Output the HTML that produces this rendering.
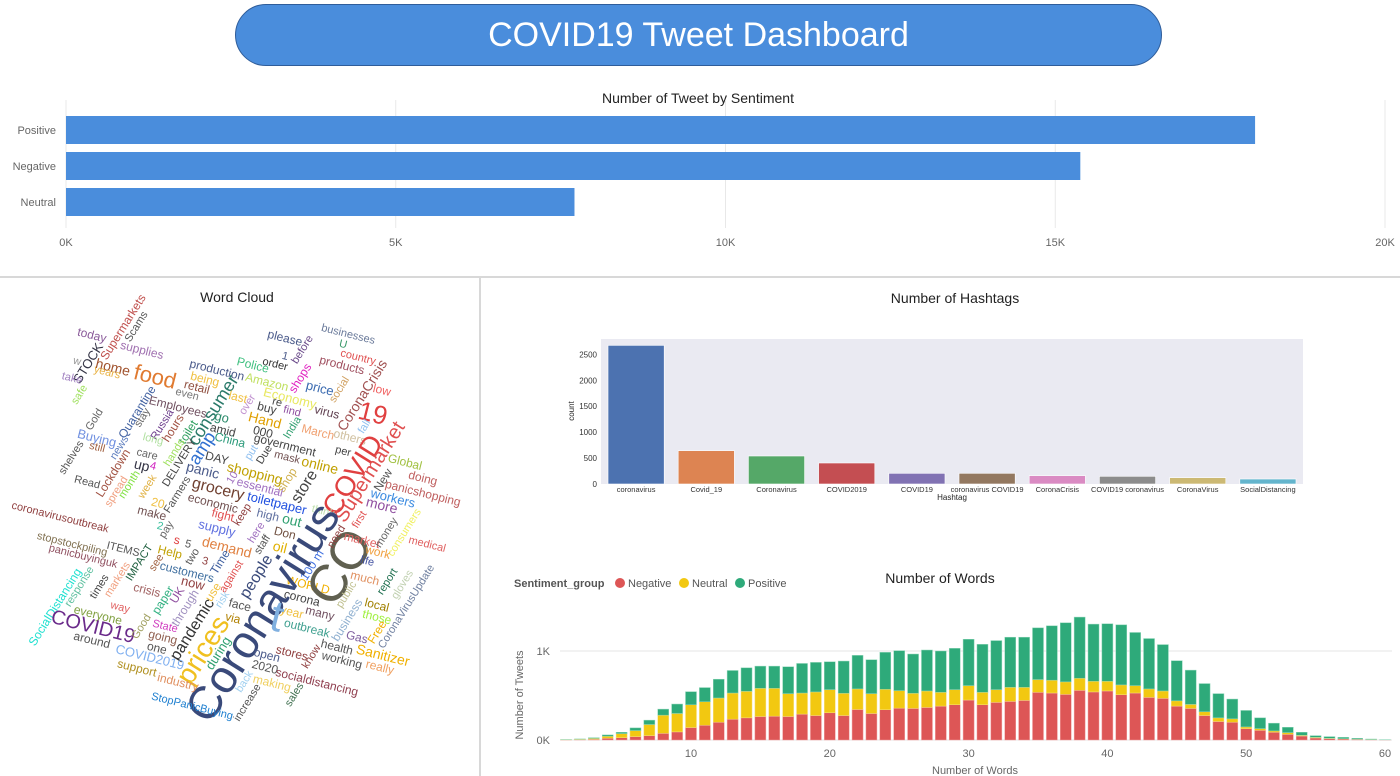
<!DOCTYPE html>
<html><head><meta charset="utf-8">
<style>
body{margin:0;width:1400px;height:776px;background:#fff;font-family:"Liberation Sans","DejaVu Sans",sans-serif;position:relative;overflow:hidden}
#title{position:absolute;left:235px;top:4px;width:925px;height:60px;background:#4a8ddc;border:1px solid #2f5d9a;border-radius:31px;color:#fff;font-size:34px;text-align:center;line-height:60px}
svg{position:absolute;left:0;top:0}
.w{position:absolute;white-space:nowrap;transform-origin:center center;line-height:1}
</style></head><body>
<div id="title">COVID19 Tweet Dashboard</div>
<svg id="main" width="1400" height="776"></svg>
<div id="cloud"></div>
<script>
// Sentiment chart data
const sentCats=["Positive","Negative","Neutral"];
const sentVals=[18030,15380,7710];
const sentTicks=[0,5000,10000,15000,20000];
const sentTickLabels=["0K","5K","10K","15K","20K"];
// Hashtag chart data
const tagCats=["coronavirus","Covid_19","Coronavirus","COVID2019","COVID19","coronavirus COVID19","CoronaCrisis","COVID19 coronavirus","CoronaVirus","SocialDistancing"];
const tagVals=[2674,643,540,405,206,206,161,148,122,96];
const tagTicks=[0,500,1000,1500,2000,2500];
// Words chart data
const wordCats=[1,2,3,4,5,6,7,8,9,10,11,12,13,14,15,16,17,18,19,20,21,22,23,24,25,26,27,28,29,30,31,32,33,34,35,36,37,38,39,40,41,42,43,44,45,46,47,48,49,50,51,52,53,54,55,56,57,58,59,60];
const negVals=[2,4,8,20,26,38,49,75,91,140,166,200,234,249,264,268,264,291,275,306,275,343,298,340,358,355,366,381,396,449,396,423,434,445,536,528,513,558,540,551,509,528,479,468,381,355,275,208,200,128,109,87,64,45,23,15,12,7,4,2];
const neuVals=[2,5,10,22,46,68,125,204,207,256,264,272,294,298,317,313,257,237,265,260,250,231,223,230,197,170,185,155,170,162,140,143,158,147,143,144,140,136,120,109,110,83,95,83,59,45,42,41,38,19,19,15,19,8,7,4,3,2,1,0];
const posVals=[1,3,8,15,15,30,49,68,106,147,159,211,253,264,249,249,302,332,332,313,362,377,381,415,449,441,460,464,464,521,539,551,563,563,581,611,664,687,642,646,675,597,566,521,451,385,317,272,222,185,121,87,60,34,19,19,15,10,6,2];
const wordTicks=[0,1000];
const wordTickLabels=["0K","1K"];
const wordXTicks=[10,20,30,40,50,60];

const NS="http://www.w3.org/2000/svg";
const svg=document.getElementById('main');
function mk(tag,attrs,parent){const e=document.createElementNS(NS,tag);for(const k in attrs)e.setAttribute(k,attrs[k]);(parent||svg).appendChild(e);return e;}
function txt(s,attrs,parent){const e=mk('text',attrs,parent);e.textContent=s;return e;}

let d=mk('line',{x1:0,y1:277,x2:1400,y2:277,stroke:'#d8d8d8','stroke-width':2});


d=mk('line',{x1:480,y1:277,x2:480,y2:776,stroke:'#d8d8d8','stroke-width':2});



// ---- Sentiment chart
const sx=v=>66+v/20000*1319;
const sentY=[116,152,188],sentH=28;
let t=txt('Number of Tweet by Sentiment',{x:698,y:103,'font-size':14,'text-anchor':'middle',fill:'#222'});


sentTicks.forEach((v,i)=>{
  const g=mk('line',{x1:sx(v),y1:100,x2:sx(v),y2:228,stroke:'#e8e8e8'});
  
  
  const l=txt(sentTickLabels[i],{x:sx(v),y:246,'font-size':11,'text-anchor':'middle',fill:'#666'});
  
  
});
sentCats.forEach((c,i)=>{
  const r=mk('rect',{x:sx(0),y:sentY[i],width:sx(sentVals[i])-sx(0),height:sentH,fill:'#4a8ddc'});
  
  
  const l=txt(c,{x:56,y:sentY[i]+sentH/2+4,'font-size':11,'text-anchor':'end',fill:'#666'});
  
  
});

// ---- Hashtag chart
const hx0=601,hx1=1303,hy0=339,hy1=484;
const hy=v=>hy1-v/2500*129.6;
t=txt('Number of Hashtags',{x:955,y:303,'font-size':14,'text-anchor':'middle',fill:'#222'});


let bg=mk('rect',{x:hx0,y:hy0,width:hx1-hx0,height:hy1-hy0,fill:'#eaeaf2'});


tagTicks.forEach(v=>{
  const l=txt(String(v),{x:597,y:hy(v)+3,'font-size':8,'text-anchor':'end',fill:'#333'});
  
  
});
const tagColors=['#4c72b0','#dd8452','#55a868','#c44e52','#8172b3','#937860','#da8bc3','#8c8c8c','#ccb974','#64b5cd'];
const step=(hx1-hx0)/tagCats.length;
tagCats.forEach((c,i)=>{
  const cx=hx0+step*(i+0.5);
  const r=mk('rect',{x:cx-step*0.4,y:hy(tagVals[i]),width:step*0.8,height:hy1-hy(tagVals[i]),fill:tagColors[i],stroke:'#fff','stroke-width':0.6});
  
  
  const l=txt(c,{x:cx,y:492,'font-size':7.5,'text-anchor':'middle',fill:'#333'});
  
  
});
t=txt('count',{x:574,y:411,'font-size':8,'text-anchor':'middle',fill:'#222',transform:'rotate(-90 574 411)'});


t=txt('Hashtag',{x:952,y:500,'font-size':8,'text-anchor':'middle',fill:'#222'});



// ---- Words chart
const wx=v=>691+(v-10)*13.88;
const wy=v=>740-v/1000*89;
t=txt('Number of Words',{x:940,y:583,'font-size':14,'text-anchor':'middle',fill:'#222'});


t=txt('Sentiment_group',{x:514,y:587,'font-size':11,'font-weight':'bold',fill:'#555'});


[['Negative','#dd5656',620,628],['Neutral','#f2c811',684,692],['Positive','#2eaa7a',740,748]].forEach(a=>{
  const c=mk('circle',{cx:a[2],cy:583,r:5,fill:a[1]});
  
  
  const l=txt(a[0],{x:a[3],y:587,'font-size':11,fill:'#555'});
  
  
});
wordTicks.forEach((v,i)=>{
  const g=mk('line',{x1:560,y1:wy(v),x2:1392,y2:wy(v),stroke:'#e6e6e6'});
  
  
  const l=txt(wordTickLabels[i],{x:550,y:wy(v)+4,'font-size':11,'text-anchor':'end',fill:'#666'});
  
  
});
wordXTicks.forEach(v=>{
  const l=txt(String(v),{x:wx(v),y:757,'font-size':11,'text-anchor':'middle',fill:'#666'});
  
  
});
t=txt('Number of Tweets',{x:523,y:695,'font-size':11,'text-anchor':'middle',fill:'#666',transform:'rotate(-90 523 695)'});


t=txt('Number of Words',{x:975,y:774,'font-size':11,'text-anchor':'middle',fill:'#666'});


wordCats.forEach((c,i)=>{
  const x=wx(c)-5.5,w=11;
  const n=negVals[i],u=neuVals[i],p=posVals[i];
  let r=mk('rect',{x:x,y:wy(n),width:w,height:wy(0)-wy(n),fill:'#dd5656',stroke:'#f2a0a0','stroke-width':0.5});
  
  
  r=mk('rect',{x:x,y:wy(n+u),width:w,height:wy(n)-wy(n+u),fill:'#f2c811',stroke:'#f8e080','stroke-width':0.5});
  
  
  r=mk('rect',{x:x,y:wy(n+u+p),width:w,height:wy(n+u)-wy(n+u+p),fill:'#2eaa7a',stroke:'#8fd6b8','stroke-width':0.5});
  
  
});

// ---- Word cloud
t=txt('Word Cloud',{x:237,y:302,'font-size':14,'text-anchor':'middle',fill:'#222'});


const words=[
["Supermarkets",123,327,12,"#c0504d",1],["Scams",137,327,11,"#555",1],["today",92,335,12,"#8a5a9a",0],["supplies",142,350,12,"#a070b0",0],
["STOCK",88,363,13,"#334",1],["w",77,362,11,"#999",0],["home",113,367,14,"#a0522d",0],["years",107,373,11,"#e8b040",0],["take",72,379,11,"#a080c0",0],
["safe",80,395,11,"#a0e060",1],["food",155,377,22,"#e07a30",0],["production",217,370,12,"#4a5a8a",0],["being",205,379,12,"#f0c040",0],
["retail",197,387,12,"#905040",0],["even",187,395,11,"#777",0],["Employees",178,407,12,"#705060",0],["consumer",213,410,18,"#2a7a6a",1],
["Police",253,365,12,"#40c080",0],["order",275,365,11,"#333",0],["1",285,357,11,"#4a5a8a",0],["please",285,338,12,"#4a5a8a",0],["before",303,350,11,"#6a4a8a",1],
["businesses",348,335,11,"#6a7a9a",0],["U",343,345,11,"#3a9a6a",0],["country",358,358,11,"#e05050",0],["products",342,365,12,"#a05060",0],
["Amazon",267,382,12,"#c0e060",0],["shops",300,378,12,"#e020c0",1],["price",320,388,13,"#3a6ab0",0],["social",340,390,11,"#d0a060",1],
["CoronaCrisis",362,395,14,"#a05050",1],["low",382,390,12,"#f06060",0],["last",238,397,12,"#f0c040",0],["over",248,405,11,"#c090d0",1],
["Economy",290,398,13,"#e8e860",0],["buy",267,408,12,"#444",0],["re",277,403,11,"#444",0],["find",292,412,11,"#9050a0",0],["virus",327,412,12,"#604050",0],
["19",373,413,26,"#e04040",0],["Hand",265,420,14,"#e0a000",0],["go",222,417,13,"#2a8a6a",0],["India",293,428,11,"#30a070",1],
["Quarantine",137,412,12,"#4060a0",1],["stay",143,418,11,"#666",1],["Gold",95,420,11,"#666",1],["Russia",163,425,11,"#6a3a8a",1],["hours",173,428,12,"#a05040",1],
["toilet",188,432,12,"#30a060",1],["amid",223,430,12,"#444",0],["000",263,432,12,"#444",0],["March",318,432,12,"#f0a070",0],["others",350,437,12,"#d0c0a0",0],
["fall",365,427,11,"#90c0f0",1],["Buying",97,438,13,"#7090e0",0],["long",153,440,11,"#b0e0a0",0],["China",230,440,12,"#2a9a7a",0],["amp",202,448,18,"#3070d0",1],
["government",285,445,12,"#444",0],["still",97,448,11,"#a06040",0],["news",120,448,11,"#6080c0",1],["care",147,455,11,"#666",0],["put",252,453,11,"#90c0f0",1],
["per",343,452,11,"#444",0],["COVID",353,475,28,"#e04040",1],["Supermarket",370,472,20,"#e05050",1],["Global",405,462,12,"#a0c040",0],
["hands",175,453,11,"#a0e060",1],["DELIVERY",180,463,11,"#444",1],["Due",265,455,11,"#444",1],["mask",287,458,11,"#705050",0],["online",320,465,14,"#c0a000",0],
["shelves",72,458,11,"#555",1],["up",142,465,14,"#334",0],["4",153,467,11,"#d020c0",0],["DAY",217,458,12,"#444",0],["panic",203,470,14,"#4a5a8a",0],
["shopping",255,473,14,"#c0a000",0],["Read",87,483,11,"#555",0],["Lockdown",113,473,12,"#a05040",1],["month",130,485,11,"#80e040",1],["week",148,487,11,"#e0b040",1],
["spread",117,492,11,"#f0a080",1],["New",383,480,12,"#555",1],["doing",423,478,12,"#c06060",0],["panicshopping",423,493,12,"#c06060",0],["grocery",218,490,16,"#704030",0],
["10",233,478,11,"#a070c0",1],["essential",260,487,12,"#a070c0",0],["shop",287,480,12,"#d0b050",1],["store",305,487,16,"#444",1],["workers",393,498,13,"#3a8ae0",0],
["more",382,505,14,"#9050a0",0],["Farmers",178,495,11,"#555",1],["economic",213,503,12,"#705050",0],["toiletpaper",277,503,13,"#2050e0",0],["20",158,503,12,"#f0c040",0],
["make",152,513,12,"#705050",0],["fight",223,515,12,"#e05050",0],["keep",243,515,11,"#904040",1],["high",268,515,12,"#6070a0",0],["out",292,520,14,"#30a070",0],
["think",323,512,11,"#c0e0b0",0],["first",360,520,11,"#e05050",1],["coronavirusoutbreak",60,518,11,"#904040",0],
["stopstockpiling",72,545,11,"#807050",0],["panicbuyinguk",83,557,11,"#905060",0],["ITEMS",123,550,11,"#555",0],["IMPACT",140,563,11,"#206040",1],
["supply",217,528,13,"#6070e0",0],["demand",227,547,14,"#e08040",0],["Help",170,552,12,"#c0a000",0],["s",177,540,12,"#e04040",0],["2",160,527,11,"#40c0a0",0],
["pay",167,530,11,"#666",1],["5",188,545,11,"#555",0],["two",193,557,11,"#555",1],["3",205,562,11,"#904040",0],["Time",220,562,12,"#4060a0",1],["see",157,563,11,"#a06040",1],
["customers",187,572,12,"#4070a0",0],["here",257,533,11,"#a070c0",1],["Don",285,533,12,"#705040",0],["staff",263,545,11,"#555",1],["oil",280,547,14,"#e0b000",0],
["people",257,577,16,"#3a4a7a",1],["against",232,577,11,"#e05050",1],["now",193,583,13,"#904040",0],["crisis",147,590,12,"#a06060",0],["markets",118,580,11,"#f0a080",1],
["times",100,587,11,"#444",1],["response",80,587,11,"#60c0a0",1],["SocialDistancing",55,607,12,"#20e0d0",1],["paper",163,600,12,"#30b080",1],["UK",177,595,12,"#9050a0",1],
["use",213,592,12,"#f0c040",1],["risk",223,600,11,"#a0d0f0",1],["through",185,608,12,"#a090c0",1],["100 m",312,565,12,"#4070e0",1],["WORLD",308,585,12,"#f0b000",0],
["corona",302,598,12,"#444",0],["face",240,605,12,"#555",0],["year",292,612,12,"#f0c040",0],["many",320,613,12,"#705060",0],["way",120,608,11,"#e06060",0],
["everyone",98,615,12,"#80a040",0],["COVID19",93,627,20,"#6a2a8a",0],["around",92,640,12,"#555",0],["Good",142,627,11,"#a0a060",1],["State",165,627,11,"#d040c0",0],
["going",163,637,12,"#906050",0],["one",157,648,12,"#555",0],["pandemic",193,630,16,"#333",1],["prices",203,650,28,"#f0c020",1],["during",218,653,13,"#30a070",1],
["via",233,618,12,"#b08000",0],["Coronavirus",262,612,46,"#3a4a7a",1],["t",277,617,44,"#80b0e0",0],["CO",340,567,52,"#606050",1],["need",337,537,11,"#904040",1],
["market",362,540,12,"#e06060",0],["money",387,533,11,"#666",1],["medical",427,545,11,"#e06060",0],["consumers",405,533,11,"#f0f060",1],["work",378,552,12,"#f0a040",0],
["life",367,562,11,"#4050a0",0],["much",365,578,12,"#e09060",0],["report",388,582,11,"#207050",1],["gloves",403,585,11,"#c0d0b0",1],["CoronaVirusUpdate",407,607,11,"#7080a0",1],
["public",347,595,11,"#c0c090",1],["business",347,620,12,"#90b0d0",1],["local",377,605,12,"#a08000",0],["those",377,617,12,"#a0f040",0],["Free",377,632,12,"#f0b000",1],
["Gas",357,637,12,"#8060a0",0],["outbreak",307,628,12,"#40a090",0],["health",337,647,12,"#555",0],["working",342,660,12,"#555",0],["Sanitizer",383,655,14,"#f0b000",0],
["really",380,667,12,"#f0a060",0],["stores",292,653,12,"#904040",0],["know",312,657,11,"#904040",1],["open",267,655,12,"#4a5a8a",0],["2020",265,667,12,"#555",0],
["socialdistancing",317,682,12,"#904050",0],["COVID2019",150,657,13,"#80b0f0",0],["support",137,668,12,"#b09020",0],["industry",178,682,12,"#e09060",0],["back",245,682,11,"#a0d0f0",1],
["making",272,683,12,"#f0d060",0],["sales",295,695,11,"#407050",1],["increase",248,703,11,"#555",1],["StopPanicBuying",192,707,11,"#2080d0",0]
];
const cloud=document.getElementById('cloud');
words.forEach(w=>{
  const e=document.createElement('div');
  e.className='w';
  e.textContent=w[0];
  e.style.fontSize=w[3]+'px';
  e.style.color=w[4];
  e.style.left=w[1]+'px';
  e.style.top=w[2]+'px';
  e.style.transform='translate(-50%,-50%) rotate('+(w[5]?-58:14)+'deg)';
  
  
  cloud.appendChild(e);
});
</script>
</body></html>
